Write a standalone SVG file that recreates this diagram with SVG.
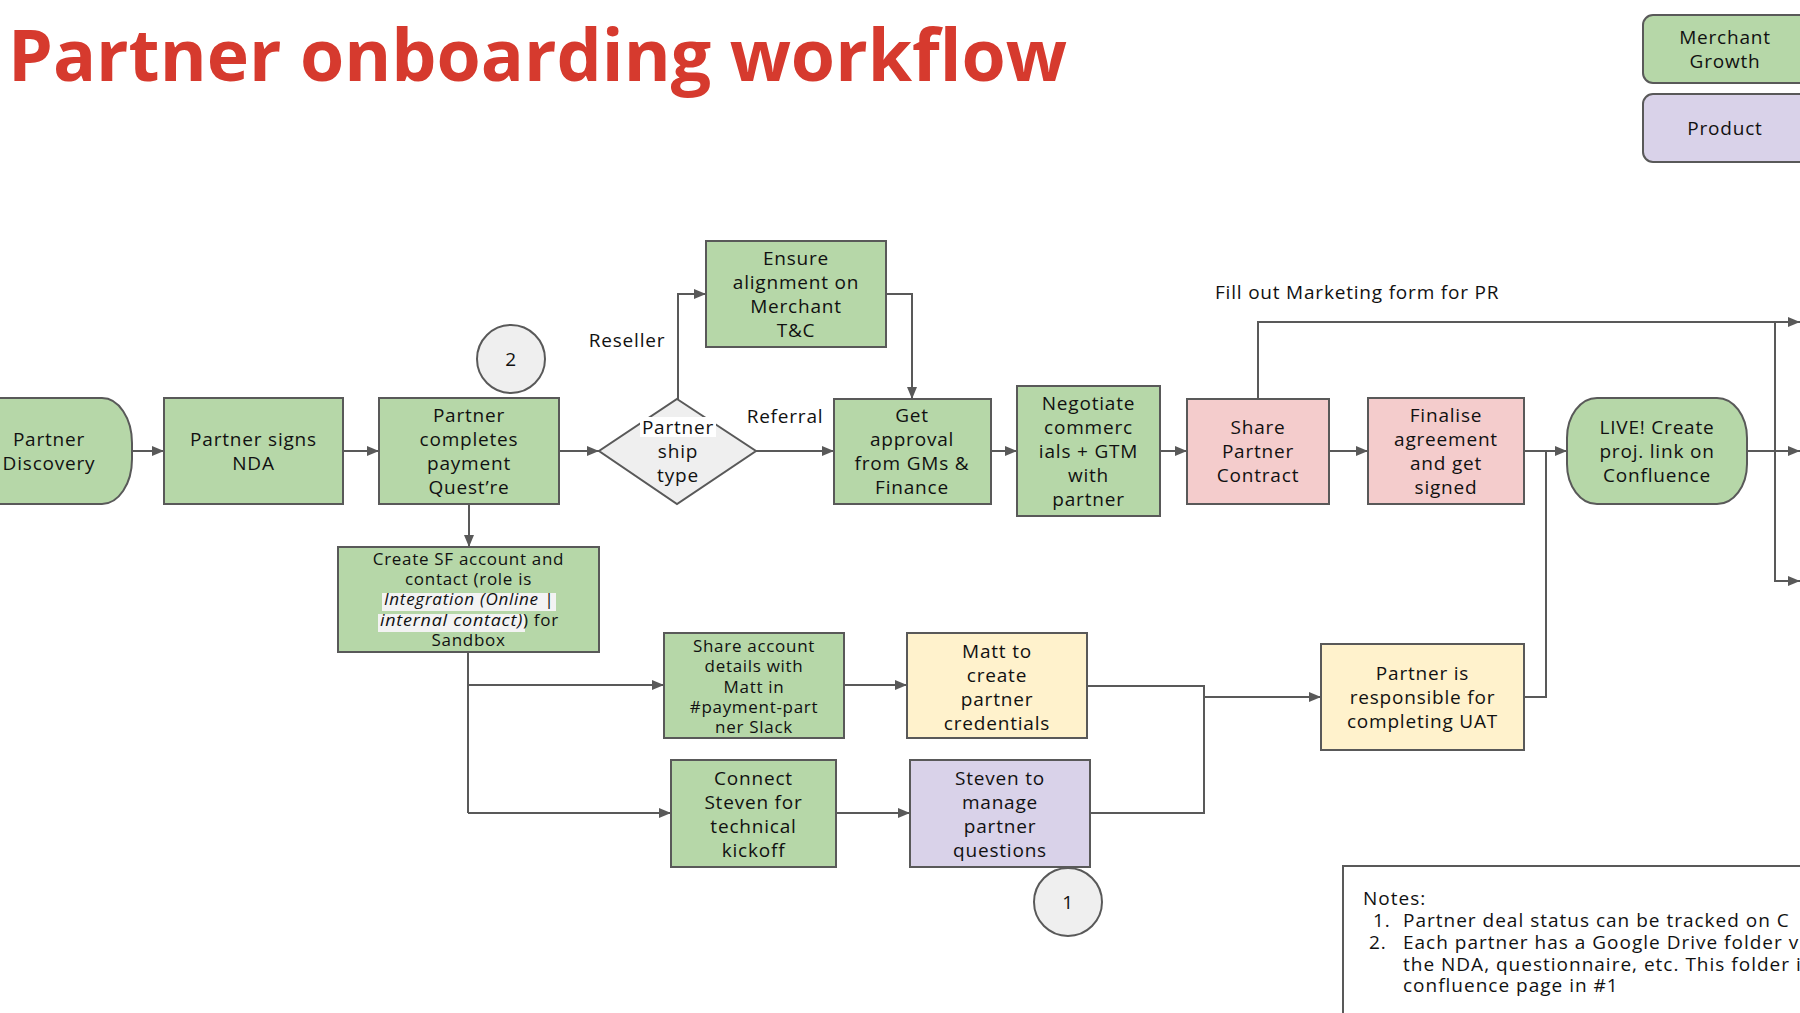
<svg xmlns="http://www.w3.org/2000/svg" width="1800" height="1013" viewBox="0 0 1800 1013">
<style>
  text { font-family: "Open Sans", "Liberation Sans", sans-serif; fill: #111; }
  .t { font-size: 19px; text-anchor: middle; letter-spacing: 0.8px; }
  .s { font-size: 17px; text-anchor: middle; letter-spacing: 0.7px; }
  .sl { font-size: 17px; text-anchor: start; letter-spacing: 0.7px; }
  .lbl { font-size: 19px; letter-spacing: 0.8px; }
  .nt { font-size: 19px; letter-spacing: 1px; }
  .box { stroke: #595959; stroke-width: 2; }
  .g { fill: #b6d7a8; }
  .p { fill: #f4cccc; }
  .y { fill: #fff2cc; }
  .v { fill: #d9d2e9; }
  .c { fill: #efefef; }
  .ln { fill: none; stroke: #595959; stroke-width: 2; }
  .arr { marker-end: url(#ah); }
</style>
<defs>
  <marker id="ah" markerUnits="userSpaceOnUse" markerWidth="12" markerHeight="10" refX="12" refY="5" orient="auto">
    <path d="M0,0 L12,5 L0,10 z" fill="#595959"/>
  </marker>
</defs>
<rect width="1800" height="1013" fill="#ffffff"/>

<text id="title" x="8" y="81" font-size="71" font-weight="700" style="fill:#d63a2e" textLength="1059" lengthAdjust="spacingAndGlyphs">Partner onboarding workflow</text>

<g id="legend-merchant">
  <rect class="box g" x="1643" y="15" width="170" height="68" rx="10"/>
  <text class="t" x="1725" y="44">Merchant</text>
  <text class="t" x="1725" y="68">Growth</text>
</g>
<g id="legend-product">
  <rect class="box v" x="1643" y="94" width="170" height="68" rx="10"/>
  <text class="t" x="1725" y="135">Product</text>
</g>

<g id="connectors">
  <line class="ln arr" x1="132" y1="451" x2="164" y2="451"/>
  <line class="ln arr" x1="343" y1="451" x2="379" y2="451"/>
  <line class="ln arr" x1="559" y1="451" x2="599" y2="451"/>
  <polyline class="ln arr" points="678,399 678,294 706,294"/>
  <polyline class="ln arr" points="886,294 912,294 912,399"/>
  <line class="ln arr" x1="756" y1="451" x2="834" y2="451"/>
  <line class="ln arr" x1="991" y1="451" x2="1017" y2="451"/>
  <line class="ln arr" x1="1160" y1="451" x2="1187" y2="451"/>
  <line class="ln arr" x1="1329" y1="451" x2="1368" y2="451"/>
  <line class="ln arr" x1="1524" y1="451" x2="1567" y2="451"/>
  <polyline class="ln" points="1524,697 1546,697 1546,451"/>
  <polyline class="ln arr" points="1258,398 1258,322 1800,322"/>
  <polyline class="ln arr" points="1775,322 1775,581 1800,581"/>
  <line class="ln arr" x1="1747" y1="451" x2="1800" y2="451"/>
  <line class="ln arr" x1="469" y1="504" x2="469" y2="547"/>
  <polyline class="ln" points="468,652 468,813"/>
  <line class="ln arr" x1="468" y1="685" x2="664" y2="685"/>
  <line class="ln arr" x1="468" y1="813" x2="671" y2="813"/>
  <line class="ln arr" x1="844" y1="685" x2="907" y2="685"/>
  <line class="ln arr" x1="836" y1="813" x2="910" y2="813"/>
  <polyline class="ln" points="1087,686 1204,686 1204,813 1090,813"/>
  <line class="ln arr" x1="1204" y1="697" x2="1321" y2="697"/>
</g>

<g id="reseller-label"><text class="lbl" x="627" y="347" text-anchor="middle">Reseller</text></g>
<g id="referral-label"><text class="lbl" x="785" y="423" text-anchor="middle">Referral</text></g>
<g id="marketing-label"><text class="lbl" x="1215" y="299">Fill out Marketing form for PR</text></g>

<g id="partner-discovery">
  <path class="box g" d="M-40,398 H102 A30,45 0 0 1 132,443 V459 A30,45 0 0 1 102,504 H-40 Z"/>
  <text class="t" x="49" y="446">Partner</text>
  <text class="t" x="49" y="470">Discovery</text>
</g>
<g id="partner-nda">
  <rect class="box g" x="164" y="398" width="179" height="106"/>
  <text class="t" x="253.5" y="446">Partner signs</text>
  <text class="t" x="253.5" y="470">NDA</text>
</g>
<g id="partner-payment">
  <rect class="box g" x="379" y="398" width="180" height="106"/>
  <text class="t" x="469" y="422">Partner</text>
  <text class="t" x="469" y="446">completes</text>
  <text class="t" x="469" y="470">payment</text>
  <text class="t" x="469" y="494">Quest’re</text>
</g>
<g id="circle-2">
  <circle class="box c" cx="511" cy="359" r="34"/>
  <text class="t" x="511" y="366">2</text>
</g>
<g id="partnership-type">
  <polygon class="box c" points="677,399 756,451 677,504 599,451"/>
  <rect x="640" y="417" width="76" height="20" fill="#ffffff"/>
  <text class="t" x="678" y="434">Partner</text>
  <text class="t" x="678" y="458">ship</text>
  <text class="t" x="678" y="482">type</text>
</g>
<g id="ensure-alignment">
  <rect class="box g" x="706" y="241" width="180" height="106"/>
  <text class="t" x="796" y="265">Ensure</text>
  <text class="t" x="796" y="289">alignment on</text>
  <text class="t" x="796" y="313">Merchant</text>
  <text class="t" x="796" y="337">T&amp;C</text>
</g>
<g id="get-approval">
  <rect class="box g" x="834" y="399" width="157" height="105"/>
  <text class="t" x="912" y="422">Get</text>
  <text class="t" x="912" y="446">approval</text>
  <text class="t" x="912" y="470">from GMs &amp;</text>
  <text class="t" x="912" y="494">Finance</text>
</g>
<g id="negotiate">
  <rect class="box g" x="1017" y="386" width="143" height="130"/>
  <text class="t" x="1088.5" y="410">Negotiate</text>
  <text class="t" x="1088.5" y="434">commerc</text>
  <text class="t" x="1088.5" y="458">ials + GTM</text>
  <text class="t" x="1088.5" y="482">with</text>
  <text class="t" x="1088.5" y="506">partner</text>
</g>
<g id="share-contract">
  <rect class="box p" x="1187" y="399" width="142" height="105"/>
  <text class="t" x="1258" y="434">Share</text>
  <text class="t" x="1258" y="458">Partner</text>
  <text class="t" x="1258" y="482">Contract</text>
</g>
<g id="finalise">
  <rect class="box p" x="1368" y="398" width="156" height="106"/>
  <text class="t" x="1446" y="422">Finalise</text>
  <text class="t" x="1446" y="446">agreement</text>
  <text class="t" x="1446" y="470">and get</text>
  <text class="t" x="1446" y="494">signed</text>
</g>
<g id="live">
  <rect class="box g" x="1567" y="398" width="180" height="106" rx="30" ry="40"/>
  <text class="t" x="1657" y="434">LIVE! Create</text>
  <text class="t" x="1657" y="458">proj. link on</text>
  <text class="t" x="1657" y="482">Confluence</text>
</g>
<g id="create-sf">
  <rect class="box g" x="338" y="547" width="261" height="105"/>
  <rect x="382" y="593" width="174" height="18" fill="#f3f3f3"/>
  <rect x="378" y="614" width="147" height="18" fill="#f3f3f3"/>
  <text class="s" x="468.5" y="565">Create SF account and</text>
  <text class="s" x="468.5" y="585">contact (role is</text>
  <text class="sl" x="384" y="605" font-style="italic" textLength="170" lengthAdjust="spacingAndGlyphs">Integration (Online |</text>
  <text class="sl" x="380" y="626"><tspan font-style="italic" textLength="143" lengthAdjust="spacingAndGlyphs">internal contact)</tspan>) for</text>
  <text class="s" x="468.5" y="646">Sandbox</text>
</g>
<g id="share-account">
  <rect class="box g" x="664" y="633" width="180" height="105"/>
  <text class="s" x="754" y="652">Share account</text>
  <text class="s" x="754" y="672">details with</text>
  <text class="s" x="754" y="693">Matt in</text>
  <text class="s" x="754" y="713">#payment-part</text>
  <text class="s" x="754" y="733">ner Slack</text>
</g>
<g id="matt-credentials">
  <rect class="box y" x="907" y="633" width="180" height="105"/>
  <text class="t" x="997" y="658">Matt to</text>
  <text class="t" x="997" y="682">create</text>
  <text class="t" x="997" y="706">partner</text>
  <text class="t" x="997" y="730">credentials</text>
</g>
<g id="connect-steven">
  <rect class="box g" x="671" y="760" width="165" height="107"/>
  <text class="t" x="753.5" y="785">Connect</text>
  <text class="t" x="753.5" y="809">Steven for</text>
  <text class="t" x="753.5" y="833">technical</text>
  <text class="t" x="753.5" y="857">kickoff</text>
</g>
<g id="steven-questions">
  <rect class="box v" x="910" y="760" width="180" height="107"/>
  <text class="t" x="1000" y="785">Steven to</text>
  <text class="t" x="1000" y="809">manage</text>
  <text class="t" x="1000" y="833">partner</text>
  <text class="t" x="1000" y="857">questions</text>
</g>
<g id="partner-uat">
  <rect class="box y" x="1321" y="644" width="203" height="106"/>
  <text class="t" x="1422.5" y="680">Partner is</text>
  <text class="t" x="1422.5" y="704">responsible for</text>
  <text class="t" x="1422.5" y="728">completing UAT</text>
</g>
<g id="circle-1">
  <circle class="box c" cx="1068" cy="902" r="34"/>
  <text class="t" x="1068" y="909">1</text>
</g>
<g id="notes">
  <rect x="1343" y="866" width="520" height="200" fill="#ffffff" stroke="#595959" stroke-width="2"/>
  <text class="nt" x="1363" y="905">Notes:</text>
  <text class="nt" x="1373" y="927">1.</text>
  <text class="nt" x="1403" y="927">Partner deal status can be tracked on C</text>
  <text class="nt" x="1369" y="949">2.</text>
  <text class="nt" x="1403" y="949">Each partner has a Google Drive folder v</text>
  <text class="nt" x="1403" y="971">the NDA, questionnaire, etc. This folder is</text>
  <text class="nt" x="1403" y="992">confluence page in #1</text>
</g>
</svg>
